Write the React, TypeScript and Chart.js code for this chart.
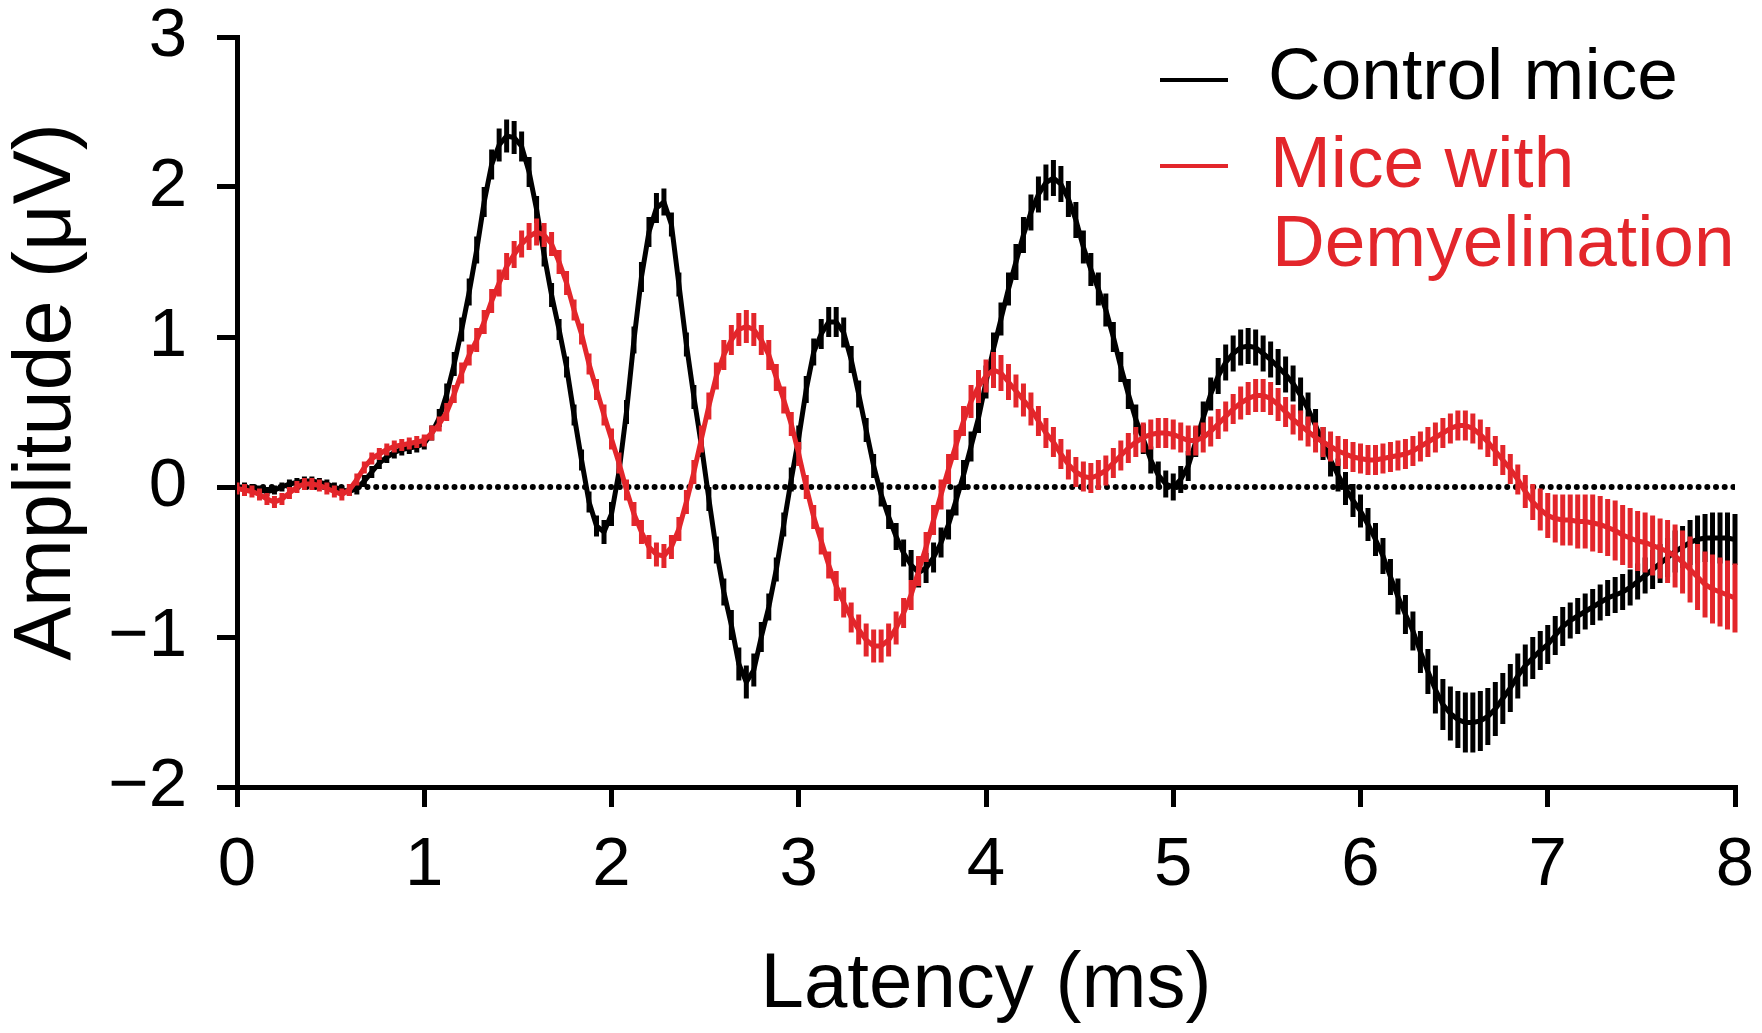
import React, { useEffect, useRef } from "react";
import { Chart, registerables } from "chart.js";

Chart.register(...registerables);

// Sampled ABR waveforms, one sample every 0.04 ms from 0 to 8 ms
const CONTROL_MEAN = [
  0.00, 0.00, -0.01, -0.02, -0.03, -0.02, 0.00, 0.02, 0.03, 0.04, 0.04, 0.03, 0.02, 0.00, -0.02, -0.03, -0.01, 0.04, 0.10, 0.16, 0.20, 0.23, 0.25, 0.26, 0.27, 0.29,
  0.36, 0.46, 0.62, 0.82, 1.05, 1.30, 1.58, 1.90, 2.15, 2.28, 2.34, 2.33, 2.27, 2.10, 1.85, 1.55, 1.28, 1.05, 0.80, 0.48, 0.18, -0.10, -0.26, -0.30, -0.18,
  0.10, 0.50, 0.98, 1.40, 1.70, 1.86, 1.90, 1.75, 1.35, 0.95, 0.60, 0.28, -0.08, -0.42, -0.70, -0.92, -1.18, -1.30, -1.22, -1.00, -0.80, -0.55, -0.25, 0.05, 0.33,
  0.65, 0.90, 1.02, 1.10, 1.10, 1.03, 0.85, 0.62, 0.38, 0.14, -0.05, -0.20, -0.33, -0.44, -0.52, -0.57, -0.54, -0.47, -0.37, -0.25, -0.09, 0.08, 0.27, 0.46, 0.70,
  0.92, 1.12, 1.32, 1.50, 1.68, 1.83, 1.95, 2.03, 2.06, 2.02, 1.92, 1.78, 1.60, 1.45, 1.32, 1.18, 1.00, 0.80, 0.62, 0.45, 0.32, 0.18, 0.08, 0.02, 0.00,
  0.05, 0.14, 0.30, 0.46, 0.62, 0.74, 0.83, 0.89, 0.93, 0.94, 0.93, 0.89, 0.85, 0.80, 0.75, 0.69, 0.61, 0.52, 0.41, 0.29, 0.18, 0.08, -0.01, -0.09, -0.16,
  -0.25, -0.35, -0.46, -0.60, -0.73, -0.85, -0.96, -1.10, -1.23, -1.35, -1.45, -1.51, -1.55, -1.57, -1.57, -1.56, -1.53, -1.48, -1.41, -1.34, -1.26, -1.19, -1.14, -1.09, -1.05,
  -0.99, -0.93, -0.89, -0.86, -0.83, -0.80, -0.77, -0.74, -0.72, -0.70, -0.67, -0.63, -0.59, -0.55, -0.51, -0.47, -0.43, -0.40, -0.37, -0.35, -0.34, -0.34, -0.34, -0.34, -0.35,
];

const CONTROL_SEM = [
  0.03, 0.03, 0.03, 0.03, 0.03, 0.03, 0.03, 0.03, 0.03, 0.03, 0.03, 0.03, 0.03, 0.03, 0.03, 0.03, 0.04, 0.04, 0.04, 0.04, 0.04, 0.04, 0.04, 0.04, 0.04, 0.04,
  0.05, 0.06, 0.07, 0.08, 0.08, 0.09, 0.09, 0.10, 0.10, 0.11, 0.11, 0.11, 0.10, 0.10, 0.09, 0.08, 0.08, 0.07, 0.07, 0.07, 0.07, 0.07, 0.07, 0.08, 0.08,
  0.08, 0.08, 0.09, 0.10, 0.10, 0.10, 0.09, 0.08, 0.08, 0.08, 0.08, 0.08, 0.08, 0.09, 0.09, 0.10, 0.11, 0.11, 0.11, 0.10, 0.09, 0.08, 0.08, 0.08, 0.08,
  0.09, 0.09, 0.10, 0.10, 0.10, 0.10, 0.09, 0.09, 0.08, 0.08, 0.08, 0.08, 0.09, 0.09, 0.10, 0.10, 0.10, 0.10, 0.10, 0.10, 0.10, 0.10, 0.10, 0.10, 0.11,
  0.11, 0.11, 0.11, 0.12, 0.12, 0.12, 0.12, 0.12, 0.12, 0.12, 0.12, 0.12, 0.11, 0.11, 0.11, 0.11, 0.10, 0.10, 0.10, 0.10, 0.10, 0.09, 0.09, 0.09, 0.09,
  0.09, 0.10, 0.10, 0.11, 0.11, 0.12, 0.12, 0.12, 0.12, 0.12, 0.12, 0.12, 0.12, 0.12, 0.12, 0.12, 0.12, 0.11, 0.11, 0.11, 0.11, 0.11, 0.11, 0.11, 0.11,
  0.11, 0.11, 0.12, 0.12, 0.12, 0.13, 0.13, 0.14, 0.15, 0.16, 0.17, 0.18, 0.19, 0.20, 0.20, 0.20, 0.19, 0.18, 0.17, 0.16, 0.15, 0.14, 0.14, 0.13, 0.13,
  0.13, 0.13, 0.12, 0.12, 0.12, 0.12, 0.12, 0.12, 0.12, 0.12, 0.12, 0.12, 0.12, 0.13, 0.13, 0.13, 0.14, 0.14, 0.15, 0.16, 0.16, 0.17, 0.17, 0.17, 0.17,
];

const DEMYELINATION_MEAN = [
  -0.01, -0.02, -0.03, -0.05, -0.08, -0.10, -0.08, -0.04, 0.00, 0.02, 0.02, 0.01, -0.01, -0.03, -0.05, -0.02, 0.05, 0.13, 0.19, 0.22, 0.25, 0.27, 0.28, 0.29, 0.30, 0.31,
  0.36, 0.42, 0.50, 0.62, 0.76, 0.88, 0.98, 1.10, 1.24, 1.36, 1.47, 1.55, 1.62, 1.67, 1.70, 1.68, 1.62, 1.50, 1.36, 1.18, 1.02, 0.82, 0.65, 0.48, 0.32,
  0.16, -0.02, -0.18, -0.30, -0.40, -0.45, -0.46, -0.40, -0.28, -0.10, 0.10, 0.32, 0.54, 0.74, 0.88, 0.98, 1.05, 1.07, 1.05, 0.98, 0.88, 0.73, 0.58, 0.42, 0.22,
  0.00, -0.20, -0.36, -0.52, -0.66, -0.77, -0.87, -0.95, -1.02, -1.06, -1.06, -1.02, -0.94, -0.84, -0.72, -0.56, -0.40, -0.22, -0.05, 0.12, 0.28, 0.44, 0.57, 0.67, 0.74,
  0.78, 0.76, 0.70, 0.64, 0.58, 0.52, 0.44, 0.36, 0.30, 0.22, 0.15, 0.10, 0.07, 0.06, 0.08, 0.11, 0.16, 0.21, 0.26, 0.30, 0.33, 0.35, 0.36, 0.36, 0.35,
  0.33, 0.31, 0.31, 0.33, 0.37, 0.42, 0.47, 0.52, 0.56, 0.59, 0.61, 0.61, 0.59, 0.55, 0.50, 0.45, 0.41, 0.37, 0.33, 0.30, 0.27, 0.24, 0.22, 0.20, 0.19,
  0.18, 0.18, 0.19, 0.20, 0.21, 0.22, 0.24, 0.27, 0.30, 0.33, 0.36, 0.39, 0.41, 0.41, 0.39, 0.35, 0.30, 0.24, 0.18, 0.12, 0.05, -0.03, -0.10, -0.15, -0.19,
  -0.21, -0.22, -0.22, -0.23, -0.23, -0.24, -0.25, -0.27, -0.29, -0.32, -0.34, -0.36, -0.37, -0.39, -0.41, -0.43, -0.46, -0.50, -0.55, -0.60, -0.65, -0.68, -0.70, -0.72, -0.74,
];

const DEMYELINATION_SEM = [
  0.04, 0.04, 0.04, 0.04, 0.04, 0.04, 0.04, 0.04, 0.04, 0.04, 0.04, 0.04, 0.04, 0.04, 0.04, 0.04, 0.04, 0.04, 0.04, 0.04, 0.04, 0.04, 0.04, 0.04, 0.04, 0.04,
  0.05, 0.05, 0.06, 0.06, 0.07, 0.07, 0.08, 0.08, 0.08, 0.09, 0.09, 0.09, 0.09, 0.09, 0.09, 0.08, 0.08, 0.08, 0.08, 0.07, 0.07, 0.07, 0.07, 0.07, 0.07,
  0.07, 0.07, 0.08, 0.08, 0.08, 0.08, 0.08, 0.08, 0.08, 0.08, 0.08, 0.09, 0.09, 0.09, 0.10, 0.10, 0.11, 0.11, 0.11, 0.10, 0.10, 0.09, 0.09, 0.08, 0.08,
  0.08, 0.08, 0.09, 0.09, 0.10, 0.10, 0.10, 0.10, 0.11, 0.11, 0.11, 0.11, 0.11, 0.10, 0.10, 0.10, 0.10, 0.10, 0.10, 0.10, 0.10, 0.10, 0.11, 0.11, 0.11,
  0.12, 0.12, 0.12, 0.11, 0.11, 0.11, 0.10, 0.10, 0.10, 0.10, 0.10, 0.10, 0.10, 0.10, 0.10, 0.10, 0.10, 0.10, 0.10, 0.10, 0.10, 0.10, 0.10, 0.10, 0.10,
  0.10, 0.10, 0.10, 0.10, 0.10, 0.10, 0.10, 0.10, 0.11, 0.11, 0.11, 0.11, 0.11, 0.11, 0.10, 0.10, 0.10, 0.10, 0.10, 0.10, 0.10, 0.10, 0.10, 0.10, 0.10,
  0.10, 0.10, 0.10, 0.10, 0.10, 0.10, 0.10, 0.10, 0.10, 0.10, 0.10, 0.10, 0.10, 0.10, 0.10, 0.10, 0.10, 0.10, 0.10, 0.10, 0.10, 0.11, 0.12, 0.14, 0.15,
  0.16, 0.17, 0.17, 0.18, 0.18, 0.19, 0.19, 0.19, 0.20, 0.20, 0.20, 0.20, 0.20, 0.20, 0.20, 0.21, 0.21, 0.21, 0.22, 0.22, 0.22, 0.23, 0.23, 0.23, 0.23,
];

// sample times (ms) of the recording grid
const LATENCY_MS = CONTROL_MEAN.map((_, i) => Math.round(i * 4) / 100);

const SERIES_LABELS = ["Control mice", "Mice with", "Demyelination"];
const X_RANGE = [0, 8];
const Y_RANGE = [-2, 3];
const AXIS_TITLES = ["Latency (ms)", "Amplitude (\u03bcV)"];

const RED = "#e3262b";
const FONT = "'Liberation Sans', Arial, Helvetica, sans-serif";

const errorBarPlugin = {
  id: "errorBars",
  afterDatasetDraw(chart: any, args: any) {
    const ds = chart.data.datasets[args.index];
    const sem: number[] | undefined = ds.sem;
    if (!sem) return;
    const ctx = chart.ctx;
    const ys = chart.scales.y;
    const area = chart.chartArea;
    ctx.save();
    ctx.beginPath();
    ctx.rect(area.left, 0, area.right - area.left + 5, chart.height);
    ctx.clip();
    ctx.strokeStyle = ds.borderColor;
    ctx.lineWidth = 5;
    ctx.lineCap = "butt";
    args.meta.data.forEach((pt: any, i: number) => {
      const v = ds.data[i].y;
      ctx.beginPath();
      ctx.moveTo(pt.x, ys.getPixelForValue(v - sem[i]));
      ctx.lineTo(pt.x, ys.getPixelForValue(v + sem[i]));
      ctx.stroke();
    });
    ctx.restore();
  },
};

const decorPlugin = {
  id: "decor",
  afterDraw(chart: any) {
    const ctx = chart.ctx;
    const area = chart.chartArea;
    ctx.save();
    // axis titles
    ctx.fillStyle = "#000";
    ctx.font = `78px ${FONT}`;
    ctx.textAlign = "center";
    ctx.textBaseline = "alphabetic";
    ctx.fillText(AXIS_TITLES[0], (area.left + area.right) / 2, 1007);
    ctx.save();
    ctx.font = `81px ${FONT}`;
    ctx.translate(70, 392);
    ctx.rotate(-Math.PI / 2);
    ctx.fillText(AXIS_TITLES[1], 0, 0);
    ctx.restore();
    // legend
    ctx.font = `73px ${FONT}`;
    ctx.textAlign = "left";
    ctx.lineWidth = 4;
    ctx.strokeStyle = "#000";
    ctx.beginPath();
    ctx.moveTo(1160, 80);
    ctx.lineTo(1228, 80);
    ctx.stroke();
    ctx.fillStyle = "#000";
    ctx.fillText(SERIES_LABELS[0], 1268, 99);
    ctx.strokeStyle = RED;
    ctx.beginPath();
    ctx.moveTo(1160, 166);
    ctx.lineTo(1228, 166);
    ctx.stroke();
    ctx.fillStyle = RED;
    ctx.fillText(SERIES_LABELS[1], 1270, 187);
    ctx.fillText(SERIES_LABELS[2], 1272, 266);
    ctx.restore();
  },
};

export default function App() {
  const ref = useRef<HTMLCanvasElement | null>(null);

  useEffect(() => {
    document.body.style.margin = "0";
    const canvas = ref.current;
    if (!canvas) return;
    const tickFont = { family: FONT, size: 69 };
    const chart = new Chart(canvas, {
      type: "line",
      data: {
        datasets: [
          {
            label: SERIES_LABELS[0],
            data: LATENCY_MS.map((x, i) => ({ x, y: CONTROL_MEAN[i] })),
            sem: CONTROL_SEM,
            borderColor: "#000000",
            borderWidth: 5,
            pointRadius: 0,
            tension: 0,
            order: 2,
          } as any,
          {
            label: SERIES_LABELS[1] + " " + SERIES_LABELS[2],
            data: LATENCY_MS.map((x, i) => ({ x, y: DEMYELINATION_MEAN[i] })),
            sem: DEMYELINATION_SEM,
            borderColor: RED,
            borderWidth: 5,
            pointRadius: 0,
            tension: 0,
            order: 1,
          } as any,
          {
            label: "zero",
            data: [
              { x: X_RANGE[0], y: 0 },
              { x: X_RANGE[1], y: 0 },
            ],
            borderColor: "#000000",
            borderWidth: 6,
            borderDash: [0, 8.7],
            borderCapStyle: "round",
            pointRadius: 0,
            order: 3,
          } as any,
        ],
      },
      options: {
        responsive: false,
        animation: false,
        events: [],
        layout: { padding: { top: 37, right: 27, left: 0, bottom: 0 } },
        plugins: { legend: { display: false }, tooltip: { enabled: false } },
        scales: {
          x: {
            type: "linear",
            min: X_RANGE[0],
            max: X_RANGE[1],
            ticks: { stepSize: 1, font: tickFont, color: "#000", padding: 18, maxRotation: 0 },
            grid: { drawOnChartArea: false, tickLength: 20, lineWidth: 5, color: "#000" },
            border: { display: true, width: 5, color: "#000" },
            afterFit(s: any) {
              s.height = 246;
              s.paddingLeft = 0;
              s.paddingRight = 0;
            },
          },
          y: {
            type: "linear",
            min: Y_RANGE[0],
            max: Y_RANGE[1],
            ticks: {
              stepSize: 1,
              font: tickFont,
              color: "#000",
              padding: 30,
              callback: (v: any) => (Number(v) < 0 ? "\u2212" + Math.abs(Number(v)) : String(v)),
            },
            grid: { drawOnChartArea: false, tickLength: 20, lineWidth: 5, color: "#000" },
            border: { display: true, width: 5, color: "#000" },
            afterFit(s: any) {
              s.width = 237;
              s.paddingTop = 0;
              s.paddingBottom = 0;
            },
          },
        },
      } as any,
      plugins: [errorBarPlugin, decorPlugin],
    });
    return () => chart.destroy();
  }, []);

  return (
    <div style={{ width: 1762, height: 1033, background: "#fff" }}>
      <canvas ref={ref} width={1762} height={1033} style={{ width: 1762, height: 1033, display: "block" }} />
    </div>
  );
}
